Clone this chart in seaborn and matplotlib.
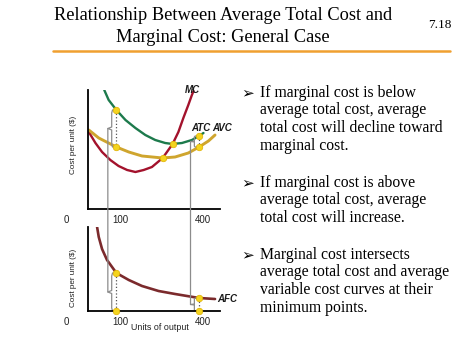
import pandas as pd
import matplotlib.pyplot as plt
import matplotlib.transforms as mtransforms
from matplotlib.patches import ConnectionPatch
import seaborn as sns

# values (schematic cost curves, output q vs cost per unit)
mc_q = [0, 24, 48, 78, 108, 139, 169, 199, 229, 268, 304, 325, 343, 361, 374, 380]
mc_c = [77, 66, 57, 49, 43, 39, 37, 39, 42, 51, 65, 77, 91, 104, 114, 118]
atc_q = [56, 72, 100, 133, 169, 205, 241, 277, 304, 338, 374, 400, 416]
atc_c = [119, 109, 99, 89, 81, 74, 69, 66, 65, 66, 69, 73, 76]
avc_q = [0, 36, 100, 145, 193, 268, 313, 361, 400, 434, 458]
avc_c = [79, 71, 62, 57, 53, 51, 52, 56, 62, 68, 74]
afc_q = [30, 36, 48, 66, 100, 145, 193, 253, 313, 400, 458]
afc_c = [84, 74, 62, 51, 38, 31, 25, 20, 17, 13, 12]

mark_q = [100, 400]
atc_at = [99, 73]
avc_at = [62, 62]
afc_at = [38, 13]
cross_q = [268, 304]
cross_c = [51, 65]

title_lines = ["Relationship Between Average Total Cost and", "Marginal Cost: General Case"]
bullets = [
    ["If marginal cost is below", "average total cost, average",
     "total cost will decline toward", "marginal cost."],
    ["If marginal cost is above", "average total cost, average",
     "total cost will increase."],
    ["Marginal cost intersects", "average total cost and average",
     "variable cost curves at their", "minimum points."],
]

sns.set_theme(style="white")
plt.rcParams['font.family'] = ['Liberation Sans', 'DejaVu Sans']

RED, GREEN, GOLD, BROWN = "#a3122c", "#1d7a4c", "#cfa52e", "#7b2a2c"
DOT, GRAY, INK = "#f4d41e", "#8c8c8c", "#222222"

fig = plt.figure(figsize=(4.74, 3.55), dpi=100)
ax1 = fig.add_axes([88 / 474, 1 - 209 / 355, 132 / 474, 119 / 355])
ax2 = fig.add_axes([88 / 474, 1 - 311 / 355, 132 / 474, 84 / 355])

sns.lineplot(x=mc_q, y=mc_c, ax=ax1, color=RED, lw=1.7, sort=False)
sns.lineplot(x=atc_q, y=atc_c, ax=ax1, color=GREEN, lw=1.7, sort=False)
sns.lineplot(x=avc_q, y=avc_c, ax=ax1, color=GOLD, lw=2.1, sort=False)
sns.lineplot(x=afc_q, y=afc_c, ax=ax2, color=BROWN, lw=1.9, sort=False)

# dotted gaps and dots
for q, top, bot in zip(mark_q, atc_at, avc_at):
    ax1.plot([q, q], [top, bot], ls=':', color='#555555', lw=0.9)
for q, top in zip(mark_q, afc_at):
    ax2.plot([q, q], [top, 0], ls=':', color='#555555', lw=0.9)

dots1 = pd.DataFrame({"q": mark_q * 2 + cross_q, "c": atc_at + avc_at + cross_c})
dots2 = pd.DataFrame({"q": mark_q * 2, "c": afc_at + [0, 0]})
for ax, d in ((ax1, dots1), (ax2, dots2)):
    sns.scatterplot(data=d, x="q", y="c", ax=ax, color=DOT, s=22,
                    edgecolor="#e0b000", linewidth=0.5, zorder=5, clip_on=False)

for ax, ylim, ymid in ((ax1, 119, 0.54), (ax2, 84, 0.40)):
    ax.set_xlim(-3, 476)
    ax.set_ylim(0, ylim)
    ax.set_yticks([])
    ax.set_xticks(mark_q)
    ax.set_xlabel("")
    ax.set_ylabel("")
    ax.tick_params(axis='x', length=0, labelsize=7, pad=4, colors=INK)
    sns.despine(ax=ax)
    for s in ('left', 'bottom'):
        ax.spines[s].set_color('black')
        ax.spines[s].set_linewidth(1.3)
    off = mtransforms.ScaledTranslation(4 / 100, 0, fig.dpi_scale_trans)
    for lbl in ax.get_xticklabels():
        lbl.set_transform(lbl.get_transform() + off)
    ax.annotate("0", xy=(0, 0), xytext=(-16, -4), textcoords='offset points',
                ha='center', va='top', fontsize=7, color=INK, annotation_clip=False)
    ax.text(-0.11, ymid, "Cost per unit ($)", rotation=90, ha='center', va='center',
            fontsize=5.9, color=INK, transform=ax.transAxes, clip_on=False)

ax2.text(0.545, -0.14, "Units of output", ha='center', va='top', fontsize=6.4,
         color=INK, transform=ax2.transAxes, clip_on=False)


# braces and the lines joining them
def brace(ax, q, top, bot):
    mid = (top + bot) / 2
    h = top - bot
    xs = [q - 4, q - 14, q - 17, q - 17, q - 31, q - 17, q - 17, q - 14, q - 4]
    ys = [top, top, top - 0.08 * h, mid + 0.04 * h, mid, mid - 0.04 * h, bot + 0.08 * h, bot, bot]
    ax.plot(xs, ys, color=GRAY, lw=0.9, clip_on=False)
    return q - 31, mid


for q, a, v, f in zip(mark_q, atc_at, avc_at, afc_at):
    xa, ya = brace(ax1, q, a, v)
    xb, yb = brace(ax2, q, f, 0)
    fig.add_artist(ConnectionPatch(xyA=(xa, ya), coordsA=ax1.transData,
                                   xyB=(xb, yb), coordsB=ax2.transData, color=GRAY, lw=0.9))

lab = dict(fontsize=7, style='italic', fontweight='bold', color='#1a1a1a', clip_on=False)
ax1.text(375, 119, "MC", ha='center', va='center', **lab)
ax1.text(408, 81, "ATC", ha='center', va='center', **lab)
ax1.text(484, 81, "AVC", ha='center', va='center', **lab)
ax2.text(465, 12, "AFC", ha='left', va='center', **lab)

# slide title, number, rule
serif = ['Liberation Serif', 'DejaVu Serif']
for y, line in zip([15, 37], title_lines):
    fig.text(223 / 474, 1 - y / 355, line, ha='center', va='center', fontsize=13.2,
             family=serif, color='black')
fig.text(440 / 474, 1 - 25 / 355, "7.18", ha='center', va='center', fontsize=9.5,
         family=serif, color='black')
fig.add_artist(plt.Line2D([53 / 474, 450 / 474], [1 - 51 / 355] * 2,
                          color='#f0a030', lw=1.8, transform=fig.transFigure))

starts = [93, 183, 255]
for y0, lines in zip(starts, bullets):
    fig.text(248 / 474, 1 - y0 / 355, "\u27a2", ha='center', va='center', fontsize=11,
             family=['DejaVu Sans'], color='black')
    for i, line in enumerate(lines):
        fig.text(260 / 474, 1 - (y0 + 17.5 * i) / 355, line, ha='left', va='center',
                 fontsize=11.3, family=serif, color='black')

fig.savefig("out.png", dpi=100)
